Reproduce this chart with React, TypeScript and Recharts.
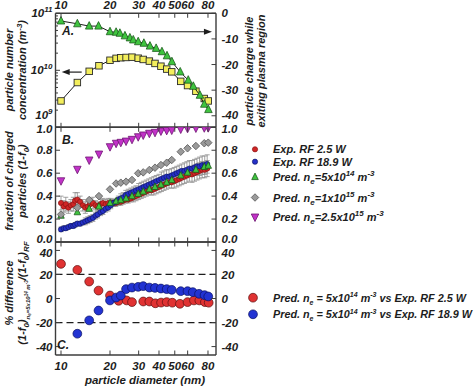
import React from 'react';
import { ScatterChart, Scatter, XAxis, YAxis, ErrorBar, ReferenceLine } from 'recharts';

const FONT = "'Liberation Sans', Arial, Helvetica, sans-serif";
const INK = '#1d1d1d';
const FRAME = '#3c3c3c';

const W = 474;
const H = 391;
const LEFT = 55.5;
const RIGHT = 216;

// shared particle diameter axis (nm)
const xDomain = [9.25, 89.6];
const xTicks = [10, 20, 30, 40, 50, 60, 80];

// panel A: particle charge (right axis)
const chargeDiam = [10, 12.6, 14.9, 17.0, 20.0, 21.8, 23.0, 24.7, 26.5, 27.8, 29.8, 32.3, 35.2, 38.4, 41.7, 44.8, 48.0, 54.0, 60.5, 65.0, 71.4, 75.9, 80.5];
const chargeVals = [-3.0, -4.1, -5.0, -5.0, -7.2, -7.4, -7.8, -8.8, -9.6, -10.4, -11.1, -11.7, -12.8, -13.7, -15.0, -16.6, -18.9, -22.9, -26.1, -28.5, -32.0, -35.5, -37.6];
const chargeTicks = [0, -10, -20, -30, -40];

// panel A: number concentration (left axis) + model diameters used in B
const modelDiam = [10, 12.6, 14.9, 17.1, 20.0, 21.8, 23.3, 25.1, 27.3, 29.8, 32.0, 34.9, 37.8, 41.1, 44.6, 47.9, 54.4, 59.9, 67.4, 75.9, 80.3];
const concVals = [2.9e9, 6.1e9, 9.6e9, 1.2e10, 1.5e10, 1.62e10, 1.66e10, 1.68e10, 1.7e10, 1.63e10, 1.55e10, 1.45e10, 1.32e10, 1.18e10, 1.05e10, 9.4e9, 6.4e9, 5.4e9, 4.3e9, 3.2e9, 2.9e9];
const concTicks = [1e9, 2e9, 3e9, 4e9, 5e9, 6e9, 7e9, 8e9, 9e9, 1e10, 2e10, 3e10, 4e10, 5e10, 6e10, 7e10, 8e10, 9e10, 1e11];
const concMajor = [1e9, 1e10, 1e11];

// panel B: predicted fractions
const pred5e14 = [0.23, 0.26, 0.29, 0.31, 0.34, 0.355, 0.365, 0.38, 0.40, 0.42, 0.44, 0.46, 0.48, 0.50, 0.52, 0.54, 0.58, 0.605, 0.63, 0.655, 0.665];
const pred1e15 = [0.24, 0.30, 0.366, 0.40, 0.459, 0.51, 0.517, 0.526, 0.541, 0.599, 0.607, 0.628, 0.648, 0.671, 0.691, 0.715, 0.787, 0.817, 0.837, 0.861, 0.866];
const pred25e15 = [0.534, 0.634, 0.715, 0.767, 0.831, 0.861, 0.869, 0.880, 0.895, 0.918, 0.933, 0.948, 0.956, 0.968, 0.973, 0.976, 0.985, 0.991, 0.994, 0.996, 0.997];

// panel B: experiments
const expDiam = [10.0, 10.4, 10.7, 11.1, 11.5, 11.9, 12.2, 12.6, 13.1, 13.6, 14.1, 14.6, 15.1, 15.7, 16.3, 16.8, 17.5, 18.1, 18.8, 19.5, 20.2, 20.9, 21.7, 22.5, 23.3, 24.1, 25.0, 25.9, 26.9, 27.9, 28.9, 30.0, 31.1, 32.2, 33.4, 34.6, 35.9, 37.2, 38.5, 40.0, 41.4, 42.9, 44.5, 46.1, 47.8, 49.6, 51.4, 53.3, 55.2, 57.3, 59.4, 61.5, 63.8, 66.1, 68.5, 71.0, 73.7, 76.4, 79.1];
const exp25 = [0.34, 0.31, 0.33, 0.30, 0.32, 0.33, 0.36, 0.37, 0.35, 0.32, 0.30, 0.31, 0.33, 0.34, 0.32, 0.31, 0.33, 0.34, 0.33, 0.34, 0.34, 0.34, 0.34, 0.35, 0.35, 0.36, 0.37, 0.37, 0.38, 0.39, 0.40, 0.41, 0.42, 0.43, 0.44, 0.45, 0.45, 0.46, 0.47, 0.48, 0.49, 0.50, 0.51, 0.52, 0.52, 0.53, 0.54, 0.55, 0.56, 0.57, 0.58, 0.59, 0.59, 0.60, 0.61, 0.62, 0.63, 0.63, 0.64];
const exp25Err = [0.06, 0.05, 0.06, 0.05, 0.05, 0.06, 0.07, 0.06, 0.05, 0.05, 0.05, 0.04, 0.05, 0.05, 0.04, 0.04, 0.04, 0.04, 0.04, 0.04, 0.04, 0.03, 0.03, 0.03, 0.03, 0.03, 0.03, 0.03, 0.03, 0.04, 0.04, 0.04, 0.04, 0.04, 0.04, 0.04, 0.04, 0.05, 0.05, 0.05, 0.05, 0.05, 0.05, 0.05, 0.05, 0.06, 0.06, 0.06, 0.06, 0.06, 0.06, 0.06, 0.07, 0.07, 0.07, 0.07, 0.07, 0.07, 0.07];
const exp189 = [0.11, 0.12, 0.12, 0.13, 0.14, 0.14, 0.15, 0.16, 0.16, 0.17, 0.18, 0.19, 0.20, 0.21, 0.23, 0.24, 0.26, 0.27, 0.29, 0.30, 0.32, 0.34, 0.35, 0.37, 0.38, 0.39, 0.41, 0.42, 0.43, 0.44, 0.45, 0.46, 0.47, 0.48, 0.49, 0.50, 0.51, 0.52, 0.53, 0.54, 0.55, 0.56, 0.57, 0.57, 0.58, 0.59, 0.60, 0.61, 0.62, 0.62, 0.63, 0.64, 0.64, 0.65, 0.66, 0.66, 0.67, 0.67, 0.68];
const exp189Err = [0.02, 0.02, 0.02, 0.02, 0.02, 0.02, 0.02, 0.02, 0.02, 0.02, 0.03, 0.03, 0.03, 0.03, 0.03, 0.03, 0.03, 0.03, 0.03, 0.03, 0.03, 0.03, 0.03, 0.03, 0.04, 0.04, 0.04, 0.04, 0.04, 0.04, 0.04, 0.05, 0.05, 0.05, 0.05, 0.05, 0.05, 0.05, 0.05, 0.05, 0.06, 0.06, 0.06, 0.06, 0.06, 0.06, 0.06, 0.06, 0.06, 0.07, 0.07, 0.07, 0.07, 0.07, 0.07, 0.08, 0.08, 0.08, 0.08];
const fracTicks = [0, 0.2, 0.4, 0.6, 0.8, 1.0];

// panel C: % difference
const diffRedDiam = [10, 12.6, 14.9, 17.0, 20.0, 22.6, 25.3, 27.3, 32.0, 34.9, 38.0, 41.2, 44.6, 48.3, 53.8, 59.9, 65.6, 70.8, 76.6, 80.8];
const diffRed = [28.8, 23.8, 14.1, 6.6, 2.5, -1.9, -1.6, -3.0, -2.5, -2.5, -4.0, -3.4, -3.0, -3.5, -4.4, -3.0, -1.6, -1.6, -3.0, -3.5];
const diffBlueDiam = [12.6, 14.9, 17.0, 20.0, 21.8, 23.3, 25.1, 27.3, 29.8, 32.0, 34.9, 37.8, 41.1, 44.6, 47.9, 54.4, 59.9, 64.5, 70.5, 76.2, 80.3];
const diffBlue = [-29.3, -18.2, -10.0, -1.6, 0.8, 2.5, 7.8, 9.1, 9.7, 10.3, 9.1, 8.8, 8.3, 7.8, 7.2, 6.1, 6.1, 5.3, 3.9, 2.8, 1.7];
const diffTicks = [-40, -20, 0, 20, 40];
const diffLimits = [20, -20];

// arrow annotations in panel A (data coordinates)
const concArrow = [{ x: 13.4, y: 9.3e9 }, { x: 10.1, y: 9.3e9 }];
const chargeArrow = [{ x: 30.6, y: -7.2 }, { x: 84.6, y: -7.2 }];

const pts = (d: number[], v: number[], e?: number[]) => d.map((x, i) => ({ d: x, v: v[i], e: e ? e[i] : 0 }));

const txt = { fontFamily: FONT, fontWeight: 700, fontStyle: 'italic', fill: INK } as const;

type Side = 'top' | 'bottom' | 'left' | 'right';

const makeTick = (side: Side, label?: (v: number) => React.ReactNode, majors?: number[], nudge?: (v: number) => number) => (props: any) => {
  const { x, y, payload } = props;
  const v = payload.value;
  const major = !majors || majors.includes(v);
  const len = major ? 4.5 : 2.5;
  const x2 = side === 'left' ? x + len : side === 'right' ? x - len : x;
  const y2 = side === 'top' ? y + len : side === 'bottom' ? y - len : y;
  let t: React.ReactNode = null;
  if (label && major) {
    const dy = nudge ? nudge(v) : 0;
    if (side === 'top') t = <text x={x} y={y - 4.5} textAnchor="middle" fontSize={11.5} {...txt}>{label(v)}</text>;
    if (side === 'bottom') t = <text x={x} y={y + 14.5} textAnchor="middle" fontSize={11.5} {...txt}>{label(v)}</text>;
    if (side === 'left') t = <text x={x - 3} y={y + 4.1 + dy} textAnchor="end" fontSize={11.5} {...txt}>{label(v)}</text>;
    if (side === 'right') t = <text x={x + 5.5} y={y + 4.1 + dy} textAnchor="start" fontSize={11.5} {...txt}>{label(v)}</text>;
  }
  return (
    <g>
      <line x1={x} y1={y} x2={x2} y2={y2} stroke={FRAME} strokeWidth={1} />
      {t}
    </g>
  );
};

const plain = (v: number) => String(v);
const oneDec = (v: number) => v.toFixed(1);
const pow10 = (v: number) => [
  <tspan key="b">10</tspan>,
  <tspan key="e" dy={-5} fontSize={8}>{Math.round(Math.log10(v))}</tspan>,
];

// labels where stacked panels meet are pushed apart a little, as in the figure
const nudgeConc = (v: number) => (v === 1e9 ? -12 : 0);
const nudgeCharge = (v: number) => (v === -40 ? -1 : 0);
const nudgeFrac = (v: number) => (v === 0 ? -3 : v === 1 ? 1.5 : 0);
const nudgeDiff = (v: number) => (v === 40 ? 2 : 0);

// symbols
const dot = (r: number, fill: string, stroke: string) => (p: any) => (
  <circle cx={p.cx} cy={p.cy} r={r} fill={fill} stroke={stroke} strokeWidth={0.7} />
);
const square = (s: number, fill: string, stroke: string) => (p: any) => (
  <rect x={p.cx - s / 2} y={p.cy - s / 2} width={s} height={s} fill={fill} stroke={stroke} strokeWidth={0.9} />
);
const triUp = (s: number, fill: string, stroke: string) => (p: any) => (
  <polygon points={`${p.cx},${p.cy - s * 0.6} ${p.cx + s / 2},${p.cy + s * 0.4} ${p.cx - s / 2},${p.cy + s * 0.4}`} fill={fill} stroke={stroke} strokeWidth={0.8} />
);
const triDown = (s: number, fill: string, stroke: string) => (p: any) => (
  <polygon points={`${p.cx},${p.cy + s * 0.6} ${p.cx + s / 2},${p.cy - s * 0.4} ${p.cx - s / 2},${p.cy - s * 0.4}`} fill={fill} stroke={stroke} strokeWidth={0.8} />
);
const diamond = (s: number, fill: string, stroke: string) => (p: any) => (
  <polygon points={`${p.cx},${p.cy - s / 2} ${p.cx + s / 2},${p.cy} ${p.cx},${p.cy + s / 2} ${p.cx - s / 2},${p.cy}`} fill={fill} stroke={stroke} strokeWidth={0.8} />
);

const arrow = (p: any) => {
  const { x1, y1, x2, y2 } = p;
  const dir = Math.sign(x2 - x1) || 1;
  return (
    <g>
      <line x1={x1} y1={y1} x2={x2 - dir * 6} y2={y2} stroke={INK} strokeWidth={1.2} />
      <polygon points={`${x2},${y2} ${x2 - dir * 8},${y2 - 3} ${x2 - dir * 8},${y2 + 3}`} fill={INK} />
    </g>
  );
};

const sqA = square(6.5, '#f3ee5c', '#2a2a2a');
const triA = triUp(7.5, '#3fc43f', '#1c5a1c');
const redExp = dot(2.6, '#d02626', '#8a1414');
const blueExp = dot(2.6, '#2530c8', '#10186a');
const greenPred = triUp(6.5, '#3fc43f', '#1c5a1c');
const grayPred = diamond(7.5, '#9a9a9a', '#555555');
const purplePred = triDown(7.5, '#c232c8', '#6e1672');
const redDiff = dot(4.4, '#e03232', '#5a1010');
const blueDiff = dot(4.4, '#2233d2', '#0a1060');

// axes are 1px thick boxes (recharts skips 0-size axes); margins compensate
const axisLine = { stroke: FRAME, strokeWidth: 1.4 };
const xBase = {
  type: 'number' as const, dataKey: 'd', scale: 'log' as const, domain: xDomain, allowDataOverflow: true,
  ticks: xTicks, interval: 0, height: 1, tickSize: 0, tickMargin: 0, tickLine: false, axisLine,
};
const yBase = {
  type: 'number' as const, dataKey: 'v', allowDataOverflow: true,
  interval: 0, width: 1, tickSize: 0, tickMargin: 0, tickLine: false, axisLine,
};

const margin = (top: number, bottom: number) => ({ top: top - 1, bottom: H - bottom - 1, left: LEFT - 1, right: W - RIGHT - 1 });
const layer: React.CSSProperties = { position: 'absolute', left: 0, top: 0 };

const PanelA = () => (
  <ScatterChart width={W} height={H} margin={margin(13.3, 127.3)}>
    <XAxis xAxisId="b" orientation="bottom" {...xBase} tick={makeTick('bottom')} />
    <XAxis xAxisId="t" orientation="top" {...xBase} tick={makeTick('top', plain)} />
    <YAxis yAxisId="n" orientation="left" {...yBase} scale="log" domain={[1e9, 1e11]} ticks={concTicks}
      tick={makeTick('left', pow10, concMajor, nudgeConc)} />
    <YAxis yAxisId="q" orientation="right" {...yBase} domain={[-44.5, 0]} ticks={chargeTicks} tick={makeTick('right', plain, undefined, nudgeCharge)} />
    <ReferenceLine xAxisId="b" yAxisId="n" segment={concArrow} shape={arrow} />
    <ReferenceLine xAxisId="b" yAxisId="q" segment={chargeArrow} shape={arrow} />
    <Scatter xAxisId="b" yAxisId="n" data={pts(modelDiam, concVals)} shape={sqA} line={{ stroke: INK, strokeWidth: 1 }} isAnimationActive={false} />
    <Scatter xAxisId="b" yAxisId="q" data={pts(chargeDiam, chargeVals)} shape={triA} line={{ stroke: INK, strokeWidth: 1 }} isAnimationActive={false} />
  </ScatterChart>
);

const PanelB = () => (
  <ScatterChart width={W} height={H} margin={margin(127.3, 242)}>
    <XAxis xAxisId="b" orientation="bottom" {...xBase} tick={makeTick('bottom')} />
    <XAxis xAxisId="t" orientation="top" {...xBase} tick={makeTick('top')} />
    <YAxis yAxisId="l" orientation="left" {...yBase} domain={[0, 1]} ticks={fracTicks} tick={makeTick('left', oneDec, undefined, nudgeFrac)} />
    <YAxis yAxisId="r" orientation="right" {...yBase} domain={[0, 1]} ticks={fracTicks} tick={makeTick('right', oneDec, undefined, nudgeFrac)} />
    <Scatter xAxisId="b" yAxisId="l" data={pts(expDiam, exp25, exp25Err)} shape={redExp} isAnimationActive={false}>
      <ErrorBar dataKey="e" direction="y" width={2.5} stroke="#8c8c8c" strokeWidth={0.8} />
    </Scatter>
    <Scatter xAxisId="b" yAxisId="l" data={pts(expDiam, exp189, exp189Err)} shape={blueExp} isAnimationActive={false}>
      <ErrorBar dataKey="e" direction="y" width={2.5} stroke="#8c8c8c" strokeWidth={0.8} />
    </Scatter>
    <Scatter xAxisId="b" yAxisId="l" data={pts(modelDiam, pred5e14)} shape={greenPred} isAnimationActive={false} />
    <Scatter xAxisId="b" yAxisId="l" data={pts(modelDiam, pred1e15)} shape={grayPred} isAnimationActive={false} />
    <Scatter xAxisId="b" yAxisId="l" data={pts(modelDiam, pred25e15)} shape={purplePred} isAnimationActive={false} />
  </ScatterChart>
);

const PanelC = () => (
  <ScatterChart width={W} height={H} margin={margin(242, 355)}>
    <XAxis xAxisId="b" orientation="bottom" {...xBase} tick={makeTick('bottom', plain)} />
    <XAxis xAxisId="t" orientation="top" {...xBase} tick={makeTick('top')} />
    <YAxis yAxisId="l" orientation="left" {...yBase} domain={[-47, 47]} ticks={diffTicks} tick={makeTick('left', plain, undefined, nudgeDiff)} />
    <YAxis yAxisId="r" orientation="right" {...yBase} domain={[-47, 47]} ticks={diffTicks} tick={makeTick('right', plain, undefined, nudgeDiff)} />
    {diffLimits.map((y) => (
      <ReferenceLine key={y} xAxisId="b" yAxisId="l" y={y} stroke={INK} strokeWidth={1.2} strokeDasharray="7 4" />
    ))}
    <Scatter xAxisId="b" yAxisId="l" data={pts(diffRedDiam, diffRed)} shape={redDiff} isAnimationActive={false} />
    <Scatter xAxisId="b" yAxisId="l" data={pts(diffBlueDiam, diffBlue)} shape={blueDiff} isAnimationActive={false} />
  </ScatterChart>
);

const VText = ({ x, y, size = 11, children }: { x: number; y: number; size?: number; children: React.ReactNode }) => (
  <text transform={`translate(${x},${y}) rotate(-90)`} x={0} y={size * 0.36} textAnchor="middle" fontSize={size} {...txt}>
    {children}
  </text>
);

const Labels = () => (
  <svg width={W} height={H} style={{ ...layer, pointerEvents: 'none' }}>
    {/* axis titles */}
    <VText x={9} y={70}>particle number</VText>
    <VText x={22} y={70}>
      <tspan>concentration (m</tspan><tspan dy={-4} fontSize={8}>-3</tspan><tspan dy={4}>)</tspan>
    </VText>
    <VText x={249} y={71}>particle charge while</VText>
    <VText x={261.5} y={71}>exiting plasma region</VText>
    <VText x={9} y={181}>fraction of charged</VText>
    <VText x={22} y={181}>
      <tspan>particles (1-f</tspan><tspan dy={3} fontSize={8}>0</tspan><tspan dy={-3}>)</tspan>
    </VText>
    <VText x={9} y={293}>% difference</VText>
    <VText x={22} y={293}>
      <tspan>(1-f</tspan><tspan dy={3} fontSize={8}>0</tspan><tspan dy={-3}>)</tspan>
      <tspan dy={4} fontSize={6}>n</tspan><tspan dy={1.5} fontSize={4.5}>e</tspan>
      <tspan dy={-1.5} fontSize={6}>=5x10</tspan><tspan dy={-2} fontSize={4.5}>14</tspan>
      <tspan dy={2} fontSize={6}> m</tspan><tspan dy={-2} fontSize={4.5}>-3</tspan>
      <tspan dy={-2}>/(1-f</tspan><tspan dy={3} fontSize={8}>0</tspan><tspan dy={-3}>)</tspan>
      <tspan dy={3} fontSize={8}>RF</tspan>
    </VText>
    <text x={145} y={384} textAnchor="middle" fontSize={11.5} {...txt}>particle diameter (nm)</text>

    {/* panel tags */}
    <text x={62} y={35} fontSize={12} {...txt}>A.</text>
    <text x={62} y={143.5} fontSize={12} {...txt}>B.</text>
    <text x={57} y={348.5} fontSize={12} {...txt}>C.</text>

    {/* legend, panel B */}
    {redExp({ cx: 255, cy: 149.3 })}
    <text x={273} y={153.3} fontSize={11} {...txt}>Exp. RF 2.5 W</text>
    {blueExp({ cx: 255, cy: 161.7 })}
    <text x={273} y={165.7} fontSize={11} {...txt}>Exp. RF 18.9 W</text>
    {greenPred({ cx: 255, cy: 177 })}
    <text x={273} y={181} fontSize={11} {...txt}>
      <tspan>Pred. n</tspan><tspan dy={3} fontSize={8}>e</tspan><tspan dy={-3}>=5x10</tspan>
      <tspan dy={-5} fontSize={8}>14</tspan><tspan dy={5}> m</tspan><tspan dy={-5} fontSize={8}>-3</tspan>
    </text>
    {grayPred({ cx: 255, cy: 197.5 })}
    <text x={273} y={201.5} fontSize={11} {...txt}>
      <tspan>Pred. n</tspan><tspan dy={3} fontSize={8}>e</tspan><tspan dy={-3}>=1x10</tspan>
      <tspan dy={-5} fontSize={8}>15</tspan><tspan dy={5}> m</tspan><tspan dy={-5} fontSize={8}>-3</tspan>
    </text>
    {purplePred({ cx: 255, cy: 217 })}
    <text x={273} y={221} fontSize={11} {...txt}>
      <tspan>Pred. n</tspan><tspan dy={3} fontSize={8}>e</tspan><tspan dy={-3}>=2.5x10</tspan>
      <tspan dy={-5} fontSize={8}>15</tspan><tspan dy={5}> m</tspan><tspan dy={-5} fontSize={8}>-3</tspan>
    </text>

    {/* legend, panel C */}
    {redDiff({ cx: 253, cy: 297.7 })}
    <text x={273} y={301.7} fontSize={10.8} {...txt}>
      <tspan>Pred. n</tspan><tspan dy={3} fontSize={7}>e</tspan><tspan dy={-3}> = 5x10</tspan>
      <tspan dy={-4.5} fontSize={7}>14</tspan><tspan dy={4.5}> m</tspan><tspan dy={-4.5} fontSize={7}>-3</tspan>
      <tspan dy={4.5}> vs Exp. RF 2.5 W</tspan>
    </text>
    {blueDiff({ cx: 253, cy: 314.3 })}
    <text x={273} y={318.3} fontSize={10.8} {...txt}>
      <tspan>Pred. n</tspan><tspan dy={3} fontSize={7}>e</tspan><tspan dy={-3}> = 5x10</tspan>
      <tspan dy={-4.5} fontSize={7}>14</tspan><tspan dy={4.5}> m</tspan><tspan dy={-4.5} fontSize={7}>-3</tspan>
      <tspan dy={4.5}> vs Exp. RF 18.9 W</tspan>
    </text>
  </svg>
);

export default function App() {
  return (
    <div style={{ position: 'absolute', left: 0, top: 0, width: W, height: H, background: '#fff' }}>
      <div style={layer}><PanelA /></div>
      <div style={layer}><PanelB /></div>
      <div style={layer}><PanelC /></div>
      <Labels />
    </div>
  );
}
